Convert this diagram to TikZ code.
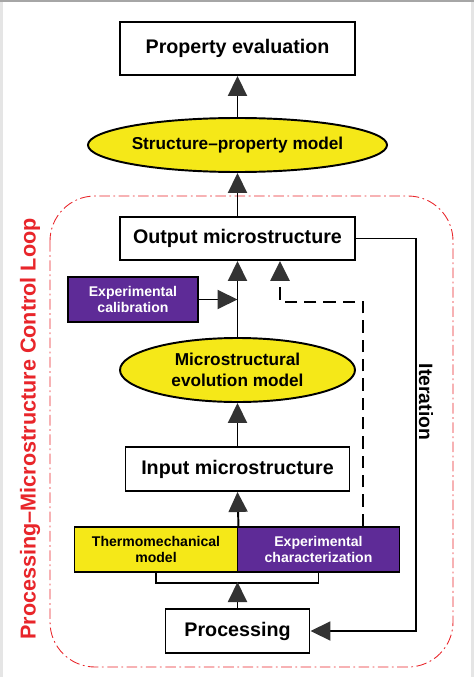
\documentclass[tikz,border=0pt]{standalone}
\usepackage{fontspec}
\setmainfont{Liberation Sans}
\usetikzlibrary{shapes.geometric,arrows.meta}
\definecolor{boxyellow}{RGB}{245,232,24}
\definecolor{boxpurple}{RGB}{94,43,151}
\definecolor{loopred}{RGB}{232,37,42}
\definecolor{tipgray}{RGB}{51,51,51}
\begin{document}
\begin{tikzpicture}[>={Triangle[width=.38cm,length=.4cm,color=tipgray]}, line width=1.1pt,
    box/.style={draw, rectangle, minimum width=4.7cm, minimum height=.86cm, inner sep=0pt, font=\bfseries\fontsize{11.2}{13}\selectfont},
    model/.style={draw, ellipse, fill=boxyellow, minimum width=4.7cm, inner sep=0pt, align=center, font=\bfseries\fontsize{9.8}{12}\selectfont},
    smallbox/.style={draw, rectangle, minimum height=.9cm, inner sep=0pt, align=center, font=\bfseries\fontsize{8}{9.2}\selectfont}]
    \useasboundingbox (0,0) rectangle (9.48,-13.54);
    \fill[gray!20] (0,0) rectangle (.05,-13.54);
    \fill[gray!20] (9.42,0) rectangle (9.48,-13.54);
    \fill[gray!70] (0,0) rectangle (9.48,-.05);
    \draw[loopred, line width=.5pt, dash pattern=on 6pt off 2pt on 1pt off 2pt, rounded corners=.9cm] (1.0,-3.92) rectangle (9.06,-13.34);
    \node[rotate=90, text=loopred, font=\bfseries\fontsize{12.3}{14}\selectfont] (looplabel) at (.6,-8.58) {Processing–Microstructure Control Loop};
    \node[box, minimum height=1.06cm] (prop) at (4.75,-.97) {Property evaluation};
    \node[model, minimum height=1.08cm] (spm) at (4.75,-2.9) {Structure–property model};
    \node[box] (out) at (4.75,-4.77) {Output microstructure};
    \node[smallbox, fill=boxpurple, text=white, minimum width=2.6cm] (calib) at (2.66,-5.99) {Experimental\\calibration};
    \node[model, minimum height=1.28cm] (mem) at (4.75,-7.4) {Microstructural\\evolution model};
    \node[box, minimum width=4.48cm, minimum height=.88cm] (in) at (4.75,-9.38) {Input microstructure};
    \node[smallbox, fill=boxyellow, minimum width=3.26cm] (thermo) at (3.12,-10.99) {Thermomechanical\\model};
    \node[smallbox, fill=boxpurple, text=white, minimum width=3.24cm] (char) at (6.37,-10.99) {Experimental\\characterization};
    \node[box, minimum width=2.88cm, minimum height=.88cm] (proc) at (4.75,-12.62) {Processing};
    \node[rotate=-90, font=\bfseries\fontsize{11}{13}\selectfont] (iter) at (8.52,-8.04) {Iteration};
    \coordinate (brk) at (4.75,-11.64);
    \coordinate (bend1) at (7.26,-6.04);
    \coordinate (bend2) at (5.6,-6.04);
    \draw[->] (spm) -- (prop);
    \draw[->] (out) -- (spm);
    \draw[->] (mem) -- (out);
    \draw[->] (calib.east) -- (calib.east -| out.south);
    \draw[->] (in) -- (mem);
    \draw[->] (thermo.north east) -- (in.south);
    \draw (thermo.south) -- ++(0,-.2) -| (char.south);
    \draw[->] (proc) -- (brk);
    \draw[->] (out.east) -- ++(1.2,0) |- (proc.east);
    \draw[->, line width=1.5pt, dash pattern=on 7pt off 4pt] (char.north -| bend1) -- (bend1) -- (bend2) -- (bend2 |- out.south);
\end{tikzpicture}
\end{document}
